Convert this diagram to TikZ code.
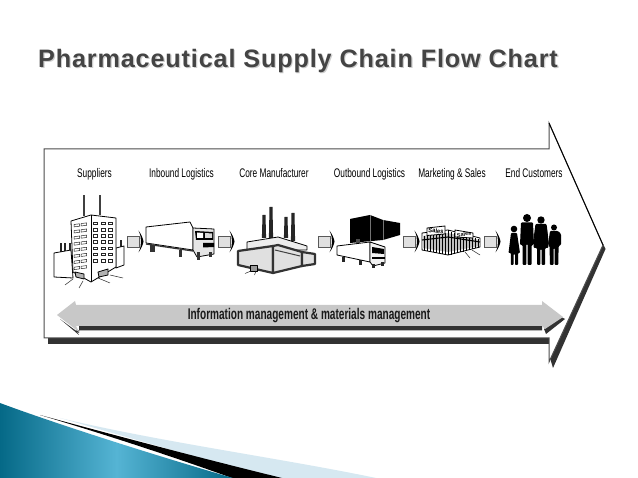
\documentclass[tikz,border=0pt]{standalone}
\usepackage{fontspec}
\setmainfont{Liberation Sans}
\definecolor{titleink}{RGB}{68,68,68}
\definecolor{titleshade}{RGB}{205,205,205}
\definecolor{shadowink}{RGB}{50,50,50}
\definecolor{bandgray}{RGB}{200,200,200}
\definecolor{tealdark}{RGB}{5,105,135}
\definecolor{teallight}{RGB}{85,180,212}
\definecolor{palesky}{RGB}{214,232,241}
\tikzset{
  x=1pt,y=-1pt,
  titletext/.style={font=\fontsize{25.2}{28}\selectfont\addfontfeature{LetterSpace=3.4}\bfseries,anchor=center,inner sep=0pt},
  steplabel/.style={font=\fontsize{12.5}{14}\selectfont,text=black,xscale=.665,anchor=base,inner sep=0pt},
  ink/.style={draw=black,line width=.8pt,line join=round},
  thinink/.style={draw=black!85,line width=.5pt},
  heavyink/.style={draw=black!80,line width=2.2pt,line join=round},
}
\newcommand{\miniarrow}[1]{%
  \begin{scope}[shift={(#1,0)}]
    \path[fill=black!12,draw=black!65,line width=.9pt] (0,236)--(12,236)--(12,247)--(0,247)--cycle;
    \path[fill=black] (11.5,230.5) .. controls (14,234) and (16,238) .. (16.5,241.5) .. controls (16,245) and (14,249) .. (11.5,252.5) .. controls (13.5,248) and (14,245) .. (14,241.5) .. controls (14,238) and (13.5,235) .. (11.5,230.5) -- cycle;
  \end{scope}}
\begin{document}
\begin{tikzpicture}
\useasboundingbox (0,0) rectangle (638,478);
\fill[white] (0,0) rectangle (638,478);

% title
\node[titletext,text=titleshade] (titleshadow) at (299.2,61.5) {Pharmaceutical Supply Chain Flow Chart};
\node[titletext,text=titleink] (title) at (298,60.5) {Pharmaceutical Supply Chain Flow Chart};

% corner swoosh
\path[fill=palesky] (60,418) .. controls (160,442) and (280,458) .. (376,478) -- (270,478) -- cycle;
\path[fill=black] (40,415) .. controls (110,434) and (200,458) .. (282,478) -- (232,478) .. controls (160,452) and (90,430) .. (40,415) -- cycle;
\path[left color=tealdark,right color=tealdark,middle color=teallight,draw=none] (0,403) .. controls (40,418) and (130,448) .. (233,478) -- (0,478) -- cycle;

% big arrow shadow
\path[fill=shadowink] (48,338) -- (549,338) -- (549,344.5) -- (48,344.5) -- cycle;
\path[fill=shadowink] (603,244) -- (605.5,249) -- (553,368) -- (550,358) -- cycle;
% big arrow
\draw[draw=black!70,line width=1pt,line join=miter,fill=white] (44,149) -- (549,149) -- (549,123) -- (603,245) -- (549,362) -- (549,338) -- (44,338) -- cycle;
\draw[black,line width=.9pt] (549,123) -- (603,245);

% information band
\path[fill=shadowink] (60,319) -- (79,333) -- (79,326) -- (542,326) -- (542,330.5) -- (76,330.5) -- (79,335) -- cycle;
\path[fill=shadowink] (561,317) -- (565,319) -- (546,334) -- (544,329) -- cycle;
\path[fill=bandgray] (57,315) -- (75,301) -- (76,305) -- (542,305) -- (542,301) -- (563,317) -- (545,329) -- (542,326) -- (76,326) -- (79,332) -- cycle;
\node[font=\bfseries\fontsize{15.5}{17}\selectfont,xscale=.65,inner sep=0pt,text=black!90] (band) at (309,316) {Information management \& materials management};

% labels
\node[steplabel] (lsup) at (94.5,177.5) {Suppliers};
\node[steplabel] (lin) at (181.5,177.5) {Inbound Logistics};
\node[steplabel] (lcore) at (274,177.5) {Core Manufacturer};
\node[steplabel] (lout) at (369.5,177.5) {Outbound Logistics};
\node[steplabel] (lmkt) at (452,177.5) {Marketing \& Sales};
\node[steplabel] (lend) at (534,177.5) {End Customers};

% small arrows
\miniarrow{127}
\miniarrow{218}
\miniarrow{318}
\miniarrow{403}
\miniarrow{484}

% supplier building
\fill[black!75] (83,195) rectangle (85.4,216);
\fill[black!75] (99,195) rectangle (101.4,215);
\foreach \xa in {61,65,70}{\fill[black!85] (\xa-.9,243) rectangle (\xa+.9,252);}
\fill[black!85] (120,240) rectangle (122,247);
\draw[ink,fill=white] (54,253) -- (71,250) -- (73,278) -- (54,277) -- cycle;
\draw[ink,fill=white] (116,248) -- (124,246) -- (124,265) -- (116,268) -- cycle;
\draw[ink,fill=white] (71,221) -- (91,215) -- (116,218) -- (116,267) -- (91,282) -- (73,272) -- cycle;
\draw[ink] (91,215) -- (91,282);
\foreach \r in {0,...,6}{
  \foreach \xa in {93.5,101,108.5}{
    \draw[thinink] ({\xa},{222+\r*6.2}) rectangle ++(4,2.6);
  }
}
\foreach \r in {0,...,7}{
  \draw[thinink] (74,{224.5+\r*6.1}) -- ++(5.5,-.7) -- ++(0,2.4) -- ++(-5.5,.7) -- cycle;
  \draw[thinink] (81,{223.6+\r*6.1}) -- ++(5.5,-.7) -- ++(0,2.4) -- ++(-5.5,.7) -- cycle;
}
\draw[ink,fill=black!30] (75,272) -- (84,274) -- (84,279) -- (76,277) -- cycle;
\draw[ink,fill=black!30] (98,272) -- (108,269) -- (108,275) -- (99,277) -- cycle;
\draw[thinink] (73,279) -- (65,285);
\draw[thinink] (83,281) -- (79,288);
\draw[thinink] (98,278) -- (110,283);
\draw[thinink] (110,275) -- (123,278);

% inbound truck
\draw[ink,fill=white] (146,227) -- (190,222) -- (193,228) -- (193,250) -- (146,243) -- cycle;
\draw[line width=1.3pt,black!80] (146,244) -- (193,251);
\draw[ink,fill=black!10] (193,228) -- (214,229) -- (214,254) -- (197,257) -- (193,250) -- cycle;
\fill[black] (195,231) -- (213,232) -- (213,240) -- (196,240) -- cycle;
\fill[white] (197,232.5) -- (203,233) -- (203,238) -- (197,238) -- cycle;
\fill[black!15] (205,233) -- (212,233.5) -- (212,238) -- (205,238) -- cycle;
\fill[black] (203,243) -- (214,243) -- (214,247) -- (203,247.5) -- cycle;
\fill[black!80] (150,245) rectangle (155,252);
\fill[black!80] (179,250) rectangle (182,257);
\fill[black!80] (197,252) rectangle (200,260);
\fill[black!80] (209,252) rectangle (212,257);

% core manufacturer
\foreach \xa/\ya/\wa/\yb in {264/215/3/238,271/207/3/238,286/217/3/238,293/213/3/241}{
  \fill[black!85] (\xa-\wa/2,\ya) -- (\xa+\wa/2,\ya) -- (\xa+\wa/2+.6,\yb) -- (\xa-\wa/2-.6,\yb) -- cycle;
}
\draw[ink,fill=black!7] (247,242) -- (278,237) -- (307,246) -- (307,250) -- (247,250) -- cycle;
\draw[heavyink,fill=black!12] (238,251) -- (273,246) -- (273,273) -- (238,265) -- cycle;
\draw[heavyink,fill=black!12] (273,246) -- (278,245) -- (302,252) -- (302,266) -- (273,273) -- cycle;
\draw[heavyink,fill=black!12] (302,252) -- (315,254) -- (315,264) -- (302,266) -- cycle;
\draw[black!75,line width=1pt] (275,250) -- (300,256);
\draw[ink,fill=black!40] (250,265) -- (257,265) -- (257,271) -- (250,271) -- cycle;
\draw[thinink] (251,271) -- (245,273.5);
\draw[thinink] (256,271) -- (254.5,275);

% outbound: dark building and truck
\path[fill=black] (350,219) -- (370,215) -- (383,220) -- (400,223) -- (400,235) -- (383,240) -- (350,243) -- cycle;
\draw[black!55,line width=.4pt] (370,215) -- (370,241);
\draw[black!55,line width=.4pt] (383,220) -- (383,240);
\fill[black!70] (356,239) rectangle (360,243);
\draw[ink,fill=white] (337,246) -- (370,242) -- (370,262) -- (337,255) -- cycle;
\draw[ink,fill=black!5] (370,242) -- (385,247) -- (385,263) -- (373,266) -- (370,262) -- cycle;
\fill[black] (372,247) -- (384,249) -- (384,254) -- (372,253) -- cycle;
\fill[black] (372,257) rectangle (385,259.5);
\fill[black!85] (342,257) rectangle (345,262);
\fill[black!85] (359,260) rectangle (362,265);
\fill[black!85] (372,264) rectangle (375,268);
\fill[black!85] (381,262) rectangle (384,266);

% sales building
\draw[ink,fill=white] (422,233) -- (448,230) -- (480,238) -- (480,247) -- (448,255) -- (422,250) -- cycle;
\fill[black!25] (422,236) -- (448,233) -- (480,240) -- (480,246) -- (448,252) -- (422,248) -- cycle;
\foreach \xa in {424,427,...,447}{ \draw[black,line width=.9pt] (\xa,{236-(\xa-422)*.11}) -- (\xa,{250+(\xa-422)*.2}); }
\foreach \xa in {451,454,...,480}{ \draw[black,line width=.9pt] (\xa,{232+(\xa-450)*.25}) -- (\xa,{255-(\xa-450)*.26}); }
\draw[black,line width=1.1pt] (422,240) -- (448,237) -- (480,242);
\draw[black,line width=1pt] (448,230) -- (448,255);
\draw[thinink] (465,252) -- (470,258);
\draw[thinink] (472,250) -- (480,255);
\draw[ink,fill=white] (427,228) -- (445,226) -- (445,234) -- (427,235.5) -- cycle;
\draw[ink,fill=white] (455,230) -- (473,233) -- (473,238) -- (455,237) -- cycle;
\node[font=\bfseries\fontsize{6.5}{7}\selectfont,inner sep=0pt,rotate=-6,xscale=.9] (signa) at (436,231) {Sales};
\node[font=\bfseries\fontsize{5.2}{6}\selectfont,inner sep=0pt,rotate=8,xscale=1.05] (signb) at (464,234.2) {Sales};

% customers
\fill[black] (514,229) circle (3.3);
\fill[black,rounded corners=.8pt] (511,233) -- (517,233) -- (520,253) -- (518,253) -- (518,265) -- (515,265) -- (515,254) -- (513.5,254) -- (513.5,265) -- (510.8,265) -- (510.8,253) -- (508.5,253) -- cycle;
\fill[black] (527,218) circle (4);
\fill[black,rounded corners=1pt] (521,222.5) -- (533,222.5) -- (534,245) -- (531.5,245) -- (531.5,265) -- (527.6,265) -- (527.6,244) -- (526.4,244) -- (526.4,265) -- (522.6,265) -- (522.6,245) -- (520,245) -- cycle;
\fill[black] (541,220) circle (3.7);
\fill[black,rounded corners=1pt] (535.5,224) -- (546.5,224) -- (548.5,248) -- (545,248) -- (545,265) -- (541.7,265) -- (541.7,249) -- (540.3,249) -- (540.3,265) -- (537,265) -- (537,248) -- (533.5,248) -- cycle;
\draw[black,line width=1.1pt,line cap=round] (535.8,226) -- (533.6,243);
\draw[black,line width=1.1pt,line cap=round] (546.3,226) -- (548.2,243);
\fill[black] (554,227.5) circle (3);
\fill[black,rounded corners=1pt] (550,231) -- (558,231) -- (561,234) -- (561,245) -- (558.6,246) -- (558.3,265) -- (554.7,265) -- (554.7,248) -- (553.5,248) -- (553.5,265) -- (550,265) -- (549.5,246) -- (548,245) -- cycle;
\end{tikzpicture}
\end{document}
